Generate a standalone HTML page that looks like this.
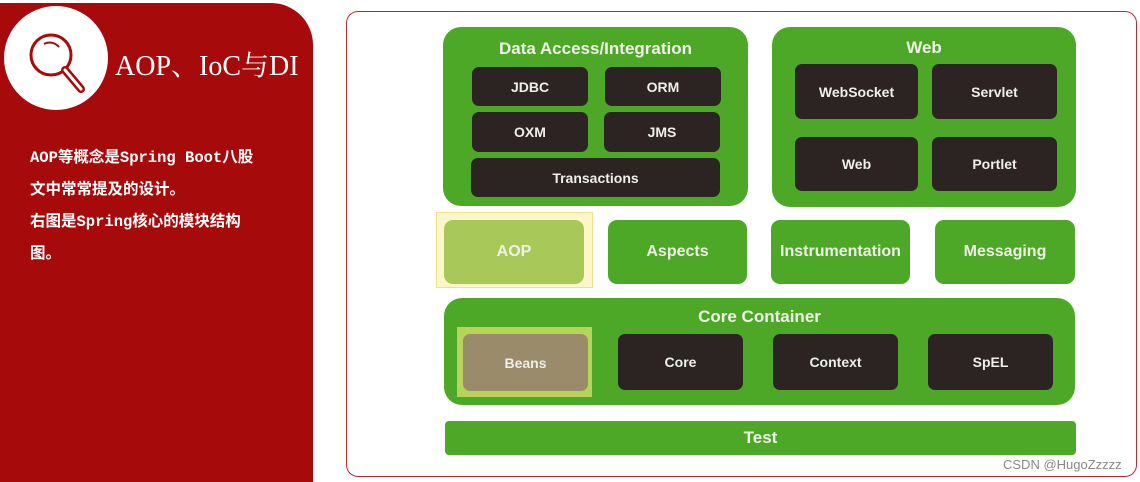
<!DOCTYPE html>
<html><head><meta charset="utf-8"><style>
body{margin:0;width:1140px;height:482px;background:#fff;position:relative;overflow:hidden;font-family:"Liberation Sans",sans-serif}
div{position:absolute;box-sizing:border-box}
.g{background:#4ea827;border-radius:18px}
.d{background:#2b2422;border-radius:7px;color:#eee;font-weight:bold;font-size:14px;display:flex;align-items:center;justify-content:center}
.m{background:#4ea827;border-radius:9px;font-weight:bold;font-size:16px;display:flex;align-items:center;justify-content:center;color:#f0f0e8}
.t{color:#f0f0e8;font-weight:bold;font-size:17px;text-align:center}
</style></head><body>
<div style="left:0;top:3px;width:313px;height:479px;background:#a60a0a;border-radius:0 42px 0 0"></div>
<div style="left:4px;top:6px;width:104px;height:104px;border-radius:50%;background:#fff"></div>
<svg style="position:absolute;left:4px;top:6px" width="104" height="104"><circle cx="47" cy="49" r="20" fill="none" stroke="#a60a0a" stroke-width="3"/><path d="M40 38 a12 12 0 0 1 15 3" fill="none" stroke="#a60a0a" stroke-width="2"/><line x1="61" y1="64" x2="77" y2="83" stroke="#a60a0a" stroke-width="8" stroke-linecap="round"/><line x1="61" y1="64" x2="77" y2="83" stroke="#fff" stroke-width="3" stroke-linecap="round"/></svg>
<div style="left:115px;top:44px;color:#fff;font-family:'Liberation Serif','Noto Serif CJK SC',serif;font-size:28px;white-space:nowrap">AOP、IoC与DI</div>
<div style="left:30px;top:142px;color:#fff;font-family:'Liberation Mono','Noto Sans CJK SC',monospace;font-size:15.5px;line-height:32px;width:280px;font-weight:bold;white-space:nowrap">AOP等概念是Spring Boot八股<br>文中常常提及的设计。<br>右图是Spring核心的模块结构<br>图。</div>
<div style="left:346px;top:11px;width:791px;height:466px;border:1.5px solid #b23030;border-radius:12px"></div>
<div class="g" style="left:443px;top:27px;width:305px;height:179px"></div>
<div class="t" style="left:443px;top:39px;width:305px">Data Access/Integration</div>
<div class="d" style="left:472px;top:67px;width:116px;height:39px">JDBC</div>
<div class="d" style="left:605px;top:67px;width:116px;height:39px">ORM</div>
<div class="d" style="left:472px;top:112px;width:116px;height:40px">OXM</div>
<div class="d" style="left:604px;top:112px;width:116px;height:40px">JMS</div>
<div class="d" style="left:471px;top:158px;width:249px;height:39px">Transactions</div>
<div class="g" style="left:772px;top:27px;width:304px;height:180px"></div>
<div class="t" style="left:772px;top:38px;width:304px">Web</div>
<div class="d" style="left:795px;top:64px;width:123px;height:55px">WebSocket</div>
<div class="d" style="left:932px;top:64px;width:125px;height:55px">Servlet</div>
<div class="d" style="left:795px;top:137px;width:123px;height:54px">Web</div>
<div class="d" style="left:932px;top:137px;width:125px;height:54px">Portlet</div>
<div style="left:436px;top:212px;width:157px;height:76px;background:#fdf6c8;border:1px solid #f2e08a"></div>
<div class="m" style="left:444px;top:220px;width:140px;height:64px;background:#a8c95a">AOP</div>
<div class="m" style="left:608px;top:220px;width:139px;height:64px">Aspects</div>
<div class="m" style="left:771px;top:220px;width:139px;height:64px">Instrumentation</div>
<div class="m" style="left:935px;top:220px;width:140px;height:64px">Messaging</div>
<div class="g" style="left:444px;top:298px;width:631px;height:107px"></div>
<div class="t" style="left:444px;top:307px;width:631px">Core Container</div>
<div style="left:457px;top:327px;width:135px;height:70px;background:#b6d45a"></div>
<div class="d" style="left:463px;top:334px;width:125px;height:57px;background:#9a8c6a">Beans</div>
<div class="d" style="left:618px;top:334px;width:125px;height:56px">Core</div>
<div class="d" style="left:773px;top:334px;width:125px;height:56px">Context</div>
<div class="d" style="left:928px;top:334px;width:125px;height:56px">SpEL</div>
<div class="m" style="left:445px;top:421px;width:631px;height:34px;border-radius:4px;font-size:17px">Test</div>
<div style="left:1003px;top:457px;color:#888;font-size:13px;font-family:'Liberation Sans','Noto Sans CJK SC',sans-serif">CSDN @HugoZzzzz</div>
</body></html>
